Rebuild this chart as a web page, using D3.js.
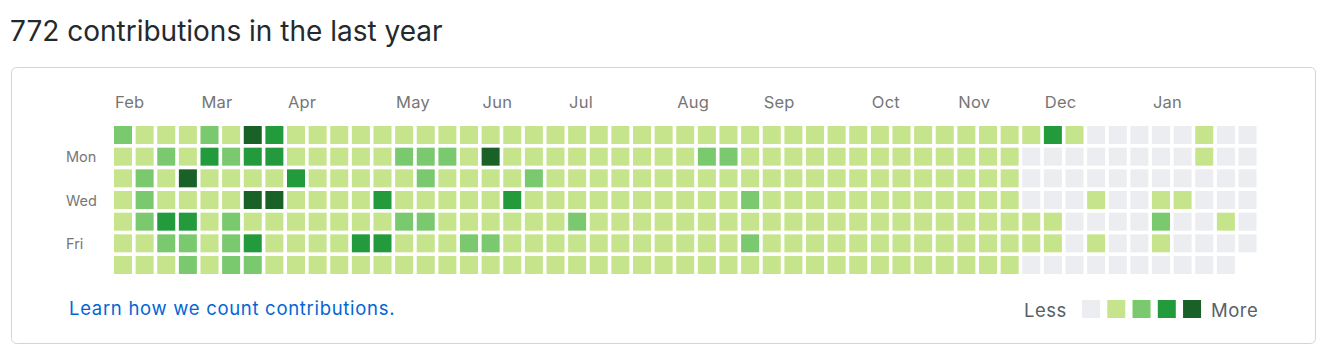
<!DOCTYPE html>
<html>
<head>
<meta charset="utf-8">
<script src="https://cdn.jsdelivr.net/npm/d3@7"></script>
<style>
  body { margin: 0; background: #fff; }
  text { font-family: Inter, "Liberation Sans", Arial, sans-serif; }
</style>
</head>
<body>
<div id="calendar"></div>
<script>
// contribution levels (0-4), one array per weekday row, one value per week column
var sun = [2,1,1,1,2,1,4,3,1,1,1,1,1,1, 1,1,1,1,1,1,1,1,1,1,1,1,1,1,1,1,1,1,1,1,1,1,1,1,1,1,1,1,1, 3,1,0,0,0,0,0,1,0,0];
var mon = [1,1,2,1,3,2,3,3,1,1,1,1,1,2, 2,2,1,4,1,1,1,1,1,1,1,1,1, 2,2,1,1,1,1,1,1,1,1,1,1,1,1,1, 0,0,0,0,0,0,0,0,1,0,0];
var tue = [1,2,1,4,1,1,1,1,3,1,1,1,1,1, 2,1,1,1,1,2,1,1,1,1,1,1,1,1,1,1,1,1,1,1,1,1,1,1,1,1,1,1, 0,0,0,0,0,0,0,0,0,0,0];
var wed = [1,2,1,1,1,1,4,4,1,1,1,1,3,1, 1,1,1,1,3,1,1,1,1,1,1,1,1,1,1,2,1,1,1,1,1,1,1,1,1,1,1,1, 0,0,0,1,0,0,1,1,0,0,0];
var thu = [1,2,3,3,1,2,1,1,1,1,1,1,1,2, 2,1,1,1,1,1,1,2,1,1,1,1,1,1,1,1,1,1,1,1,1,1,1,1,1,1,1,1,1,1, 0,0,0,0,2,0,0,1,0];
var fri = [1,1,2,2,1,2,3,1,1,1,1,3,3,1, 1,1,2,2,1,1,1,1,1,1,1,1,1,1,1,2,1,1,1,1,1,1,1,1,1,1,1,1,1,1, 0,1,0,0,1,0,0,0,0];
var sat = [1,1,1,2,1,2,2,1,1,1,1,1,1,1, 1,1,1,1,1,1,1,1,1,1,1,1,1,1,1,1,1,1,1,1,1,1,1,1,1,1,1,1, 0,0,0,0,0,0,0,0,0,0];

var rows = [sun, mon, tue, wed, thu, fri, sat];
var dayLabels = ["", "Mon", "", "Wed", "", "Fri", ""];
var monthLabels = ["Feb", "Mar", "Apr", "May", "Jun", "Jul", "Aug", "Sep", "Oct", "Nov", "Dec", "Jan"];
var monthWeeks = [0, 4, 8, 13, 17, 21, 26, 30, 35, 39, 43, 48];
var levelColors = ["#ebedf0", "#c6e48b", "#7bc96f", "#239a3b", "#196127"];
var total = 772;

var width = 1326, height = 352;

var svg = d3.select("#calendar")
  .append("svg")
    .attr("width", width)
    .attr("height", height);

// heading
svg.append("text")
  .attr("x", 10)
  .attr("y", 41)
  .attr("fill", "#24292e")
  .style("font-size", "28px")
  .text(total + " contributions in the last year");

// box around the graph
svg.append("rect")
  .attr("x", 11.5)
  .attr("y", 67.5)
  .attr("width", 1304)
  .attr("height", 276)
  .attr("rx", 5)
  .attr("fill", "none")
  .attr("stroke", "#d1d5da");

// scales for week columns and weekday rows
var x = d3.scaleBand()
  .domain(d3.range(sun.length))
  .range([114, 1256.5])
  .paddingInner(0.1676);

var y = d3.scaleBand()
  .domain(d3.range(7))
  .range([126, 274])
  .paddingInner(0.169);

var color = d3.scaleOrdinal()
  .domain(d3.range(levelColors.length))
  .range(levelColors);

// flatten rows into cells
var cells = [];
rows.forEach(function(r, day) {
  r.forEach(function(v, week) {
    cells.push({week: week, day: day, level: v});
  });
});

svg.append("g")
  .selectAll("rect")
  .data(cells)
  .join("rect")
    .attr("x", d => x(d.week))
    .attr("y", d => y(d.day))
    .attr("width", x.bandwidth())
    .attr("height", y.bandwidth())
    .attr("fill", d => color(d.level));

// month labels on top
svg.append("g")
  .selectAll("text")
  .data(monthLabels)
  .join("text")
    .attr("x", (d, i) => x(monthWeeks[i]) + 1)
    .attr("y", 108)
    .attr("fill", "#767676")
    .style("font-size", "16.5px")
    .style("letter-spacing", "0.2px")
    .text(d => d);

// weekday labels
svg.append("g")
  .selectAll("text")
  .data(dayLabels)
  .join("text")
    .attr("x", 66)
    .attr("y", (d, i) => y(i) + y.bandwidth() / 2 + 5.5)
    .attr("fill", "#767676")
    .style("font-size", "14.5px")
    .text(d => d);

// footer link
svg.append("text")
  .attr("x", 69)
  .attr("y", 315)
  .attr("fill", "#0366d6")
  .style("font-size", "18.5px")
  .style("letter-spacing", "0.7px")
  .text("Learn how we count contributions.");

// legend
var legend = svg.append("g");
var lx = d3.scaleBand()
  .domain(d3.range(levelColors.length))
  .range([1082, 1196 + 6])
  .paddingInner(0.25);

legend.selectAll("rect")
  .data(levelColors)
  .join("rect")
    .attr("x", (d, i) => lx(i))
    .attr("y", 300)
    .attr("width", 18)
    .attr("height", 18)
    .attr("fill", d => d);

legend.append("text")
  .attr("x", 1024)
  .attr("y", 317)
  .attr("fill", "#586069")
  .style("font-size", "18.5px")
  .style("letter-spacing", "0.5px")
  .text("Less");

legend.append("text")
  .attr("x", 1211)
  .attr("y", 317)
  .attr("fill", "#586069")
  .style("font-size", "18.5px")
  .style("letter-spacing", "0.5px")
  .text("More");
</script>
</body>
</html>
